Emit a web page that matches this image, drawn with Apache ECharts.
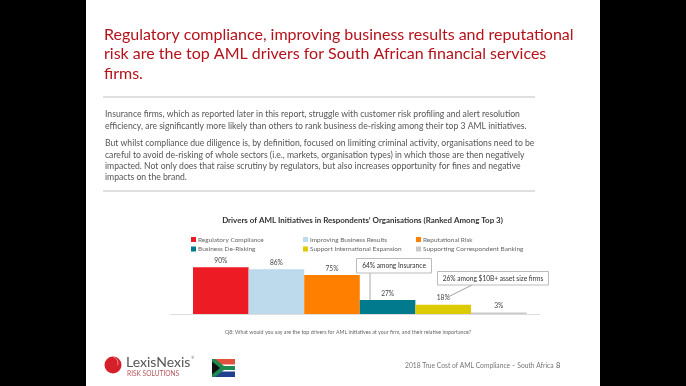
<!DOCTYPE html>
<html><head><meta charset="utf-8">
<style>html,body{margin:0;padding:0;background:#000}#c{width:686px;height:386px}</style>
<script src="https://cdn.jsdelivr.net/npm/echarts@6/dist/echarts.min.js"></script>
</head><body><div id="c"></div>
<script>
const categories=["Regulatory Compliance","Improving Business Results","Reputational Risk","Business De-Risking","Support International Expansion","Supporting Correspondent Banking"];
const values=[90,86,75,27,18,3];
const colors=["#ED1C24","#BDD9EC","#FF8000","#007A8C","#DCCB00","#C9C9C9"];
const titleLines=["Regulatory compliance, improving business results and reputational","risk are the top AML drivers for South African financial services","firms."];
const bodyLines=[
["Insurance firms, which as reported later in this report, struggle with customer risk profiling and alert resolution",114],
["efficiency, are significantly more likely than others to rank business de-risking among their top 3 AML initiatives.",126],
["But whilst compliance due diligence is, by definition, focused on limiting criminal activity, organisations need to be",143],
["careful to avoid de-risking of whole sectors (i.e., markets, organisation types) in which those are then negatively",155],
["impacted. Not only does that raise scrutiny by regulators, but also increases opportunity for fines and negative",166],
["impacts on the brand.",177]];
const chartTitle="Drivers of AML Initiatives in Respondents\u2019 Organisations (Ranked Among Top 3)";
const footnote="Q8: What would you say are the top drivers for AML initiatives at your firm, and their relative importance?";
const F="Lato, 'Open Sans', sans-serif";
const txt=(x,y,text,size,fill,extra)=>({type:'text',x,y,style:Object.assign({text,fontSize:size,fontFamily:F,fill,textVerticalAlign:'middle',verticalAlign:'middle'},extra||{})});
const rect=(x,y,w,h,fill,stroke)=>({type:'rect',shape:{x,y,width:w,height:h},style:{fill,stroke:stroke||null,lineWidth:stroke?1:0}});
const line=(x1,y1,x2,y2,stroke,w)=>({type:'line',shape:{x1,y1,x2,y2},style:{stroke,lineWidth:w||1}});
const poly=(points,fill)=>({type:'polygon',shape:{points},style:{fill}});
const graphic=[
 Object.assign(rect(86,0,514,386,'#fff'),{z:-1}),
 ...titleLines.map((t,i)=>txt(104,35+i*19.2,t,16,'#B5121B')),
 line(103,97,535,97,'#d4d4d4',1.5),line(103,191,535,191,'#d4d4d4',1.5),
 ...bodyLines.map(b=>txt(105,b[1],b[0],8.65,'#555')),
 txt(362.5,220,chartTitle,7.95,'#333',{fontWeight:'bold',textAlign:'center',align:'center'}),
 line(170,314.5,540,314.5,'#ddd',1),
 txt(348,332,footnote,5.3,'#666',{textAlign:'center',align:'center'}),
 line(370,273,370,301,'#aaa',1),
 line(472,285,448,297,'#888',.8),
 Object.assign(rect(356.5,258.5,75,14.5,'#fff','#bbb'),{z:5}),
 Object.assign(txt(394,266,"64% among Insurance",6.6,'#333',{textAlign:'center',align:'center'}),{z:6}),
 Object.assign(rect(437.5,271.5,111,13.5,'#fff','#bbb'),{z:5}),
 Object.assign(txt(493,278.5,"26% among $10B+ asset size firms",6.6,'#333',{textAlign:'center',align:'center'}),{z:6}),
 {type:'circle',shape:{cx:113,cy:365,r:8.5},style:{fill:'#D5202A'}},
 {type:'arc',shape:{cx:112,cy:363,r:6,startAngle:-1.3,endAngle:0.4},style:{stroke:'#F28A8A',lineWidth:1,fill:null}},
 txt(126,362,"LexisNexis",14,'#555'),
 txt(191,358,"\u00AE",4,'#555'),
 txt(127,373.5,"RISK SOLUTIONS",6.6,'#B8555A'),
 rect(212,359,23,18,'#fff'),
 rect(212,359,23,5.5,'#E0523C'),
 rect(212,371.5,23,5.5,'#1F3F8F'),
 poly([[212,359],[215,359],[224,366],[235,366],[235,370],[224,370],[215,377],[212,377]],'#1E8A50'),
 poly([[212,361.5],[220,368],[212,374.5]],'#111'),
 txt(405,366,"2018 True Cost of AML Compliance \u2013 South Africa",6.7,'#777'),
 txt(556,366,"8",7.5,'#555')
];
const legendBase={orient:'vertical',itemWidth:5,itemHeight:5,itemGap:2.5,icon:'rect',padding:0,top:236,textStyle:{fontSize:6.5,color:'#666',fontFamily:F,padding:[0,0,0,-3]}};
const chart=echarts.init(document.getElementById('c'));
chart.setOption({
 animation:false,
 backgroundColor:'#000',
 graphic,
 legend:[0,1,2].map(c=>Object.assign({},legendBase,{left:[191,303,416][c],data:[categories[c],categories[c+3]]})),
 grid:{left:193,width:333.6,bottom:72,height:52},
 xAxis:{type:'category',data:categories,axisLine:{show:false},axisTick:{show:false},axisLabel:{show:false}},
 yAxis:{type:'value',min:0,max:100,show:false,splitLine:{show:false}},
 series:categories.map((name,i)=>({
  name,type:'bar',stack:'all',barCategoryGap:0,z:3,
  itemStyle:{color:colors[i]},
  label:{show:true,position:'top',distance:3,formatter:'{c}%',fontSize:6.6,color:'#444',fontFamily:F},
  data:values.map((v,j)=>j===i?v:null)
 }))
});
</script></body></html>
